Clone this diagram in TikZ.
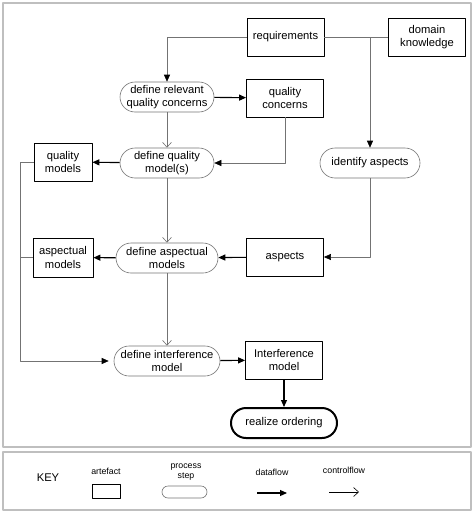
\documentclass[tikz,border=0pt]{standalone}
\usepackage{fontspec}
\setmainfont{Liberation Sans}
\usetikzlibrary{arrows.meta,positioning}
\begin{document}
\begin{tikzpicture}[x=1pt,y=-1pt, font=\fontsize{11.2}{13.5}\selectfont, line join=round,
		artefact/.style={draw, line width=0.8pt, minimum width=77pt, minimum height=38pt, align=center, inner sep=1pt},
		procstep/.style={draw=black!55, line width=0.6pt, rounded corners=15pt, minimum height=30pt, align=center, inner sep=1pt},
		data/.style={line width=1.1pt, -{Triangle[length=7pt,width=6pt]}},
		feed/.style={draw=black!55, line width=0.6pt, -{Triangle[length=7pt,width=6pt,color=black]}},
		plain/.style={draw=black!55, line width=0.6pt},
		ctrl/.style={draw=black!55, line width=0.6pt, -{Straight Barb[length=5pt,width=9pt]}},
		frame/.style={draw=black!25, line width=1.5pt},
		keytext/.style={font=\fontsize{8.8}{10.5}\selectfont, align=center, inner sep=0pt}]
				\useasboundingbox (0,0) rectangle (474,514);
				\draw[frame] (3,3) rectangle (471,447);
				\draw[frame] (3,452) rectangle (471,510);
				% artefacts and process steps
				\node[artefact] (req) at (285.5,37) {requirements};
				\node[artefact] (dom) at (427,37) {domain\\knowledge};
				\node[procstep, minimum width=94pt] (dfrel) at (167,97) {define relevant\\quality concerns};
				\node[artefact] (qc) at (285,98) {quality\\concerns};
				\node[procstep, minimum width=94pt] (dfqm) at (167,163) {define quality\\model(s)};
				\node[artefact, minimum width=58pt] (qm) at (63,162) {quality\\models};
				\node[procstep, minimum width=100pt] (idasp) at (370,163) {identify aspects};
				\node[artefact, minimum width=60pt, minimum height=39pt] (am) at (63,257.5) {aspectual\\models};
				\node[procstep, minimum width=102pt] (dfam) at (167,258) {define aspectual\\models};
				\node[artefact] (asp) at (285,257) {aspects};
				\node[procstep, minimum width=106pt] (dfint) at (167,361) {define interference\\model};
				\node[artefact] (im) at (284,360) {Interference\\model};
				\node[procstep, draw=black, line width=2pt, minimum width=106pt] (real) at (284,423) {realize ordering};
				\coordinate (split) at (idasp |- req);
				\coordinate (bus) at (20,361);
				% flows
				\draw[feed] (req.west) -| (dfrel.north);
				\draw[plain] (req.east) -- (dom.west);
				\draw[feed] (split) -- (idasp.north);
				\draw[data] (dfrel) -- (qc);
				\draw[ctrl] (dfrel) -- (dfqm);
				\draw[feed] (qc.south) |- (dfqm.east);
				\draw[data] (dfqm) -- (qm);
				\draw[ctrl] (dfqm) -- (dfam);
				\draw[feed] (idasp.south) |- (asp.east);
				\draw[data] (asp) -- (dfam);
				\draw[data] (dfam) -- (am);
				\draw[ctrl] (dfam) -- (dfint);
				\draw[feed, shorten >=5pt] (qm.west) -| (bus) -- (dfint.west);
				\draw[plain] (am.west) -- (am.west -| bus);
				\draw[data] (dfint) -- (im);
				\draw[data] (im) -- (real);
				% key
				\node (key) at (48,478) {KEY};
				\node[keytext] (kart) at (106,471) {artefact};
				\node[draw, line width=0.7pt, minimum width=28pt, minimum height=14pt, inner sep=0pt] (kbox) at (106,491) {};
				\node[keytext] (kproc) at (186,472) {process\\step};
				\node[procstep, minimum width=45pt, minimum height=12pt, rounded corners=6pt] (kstep) at (184.5,492) {};
				\node[keytext] (kdata) at (272,472) {dataflow};
				\coordinate (kd1) at (257,493);
				\coordinate (kd2) at (287,493);
				\draw[data] (kd1) -- (kd2);
				\node[keytext] (kctrl) at (344,470) {controlflow};
				\coordinate (kc1) at (329,492);
				\coordinate (kc2) at (359,492);
				\draw[ctrl, draw=black] (kc1) -- (kc2);
\end{tikzpicture}
\end{document}
